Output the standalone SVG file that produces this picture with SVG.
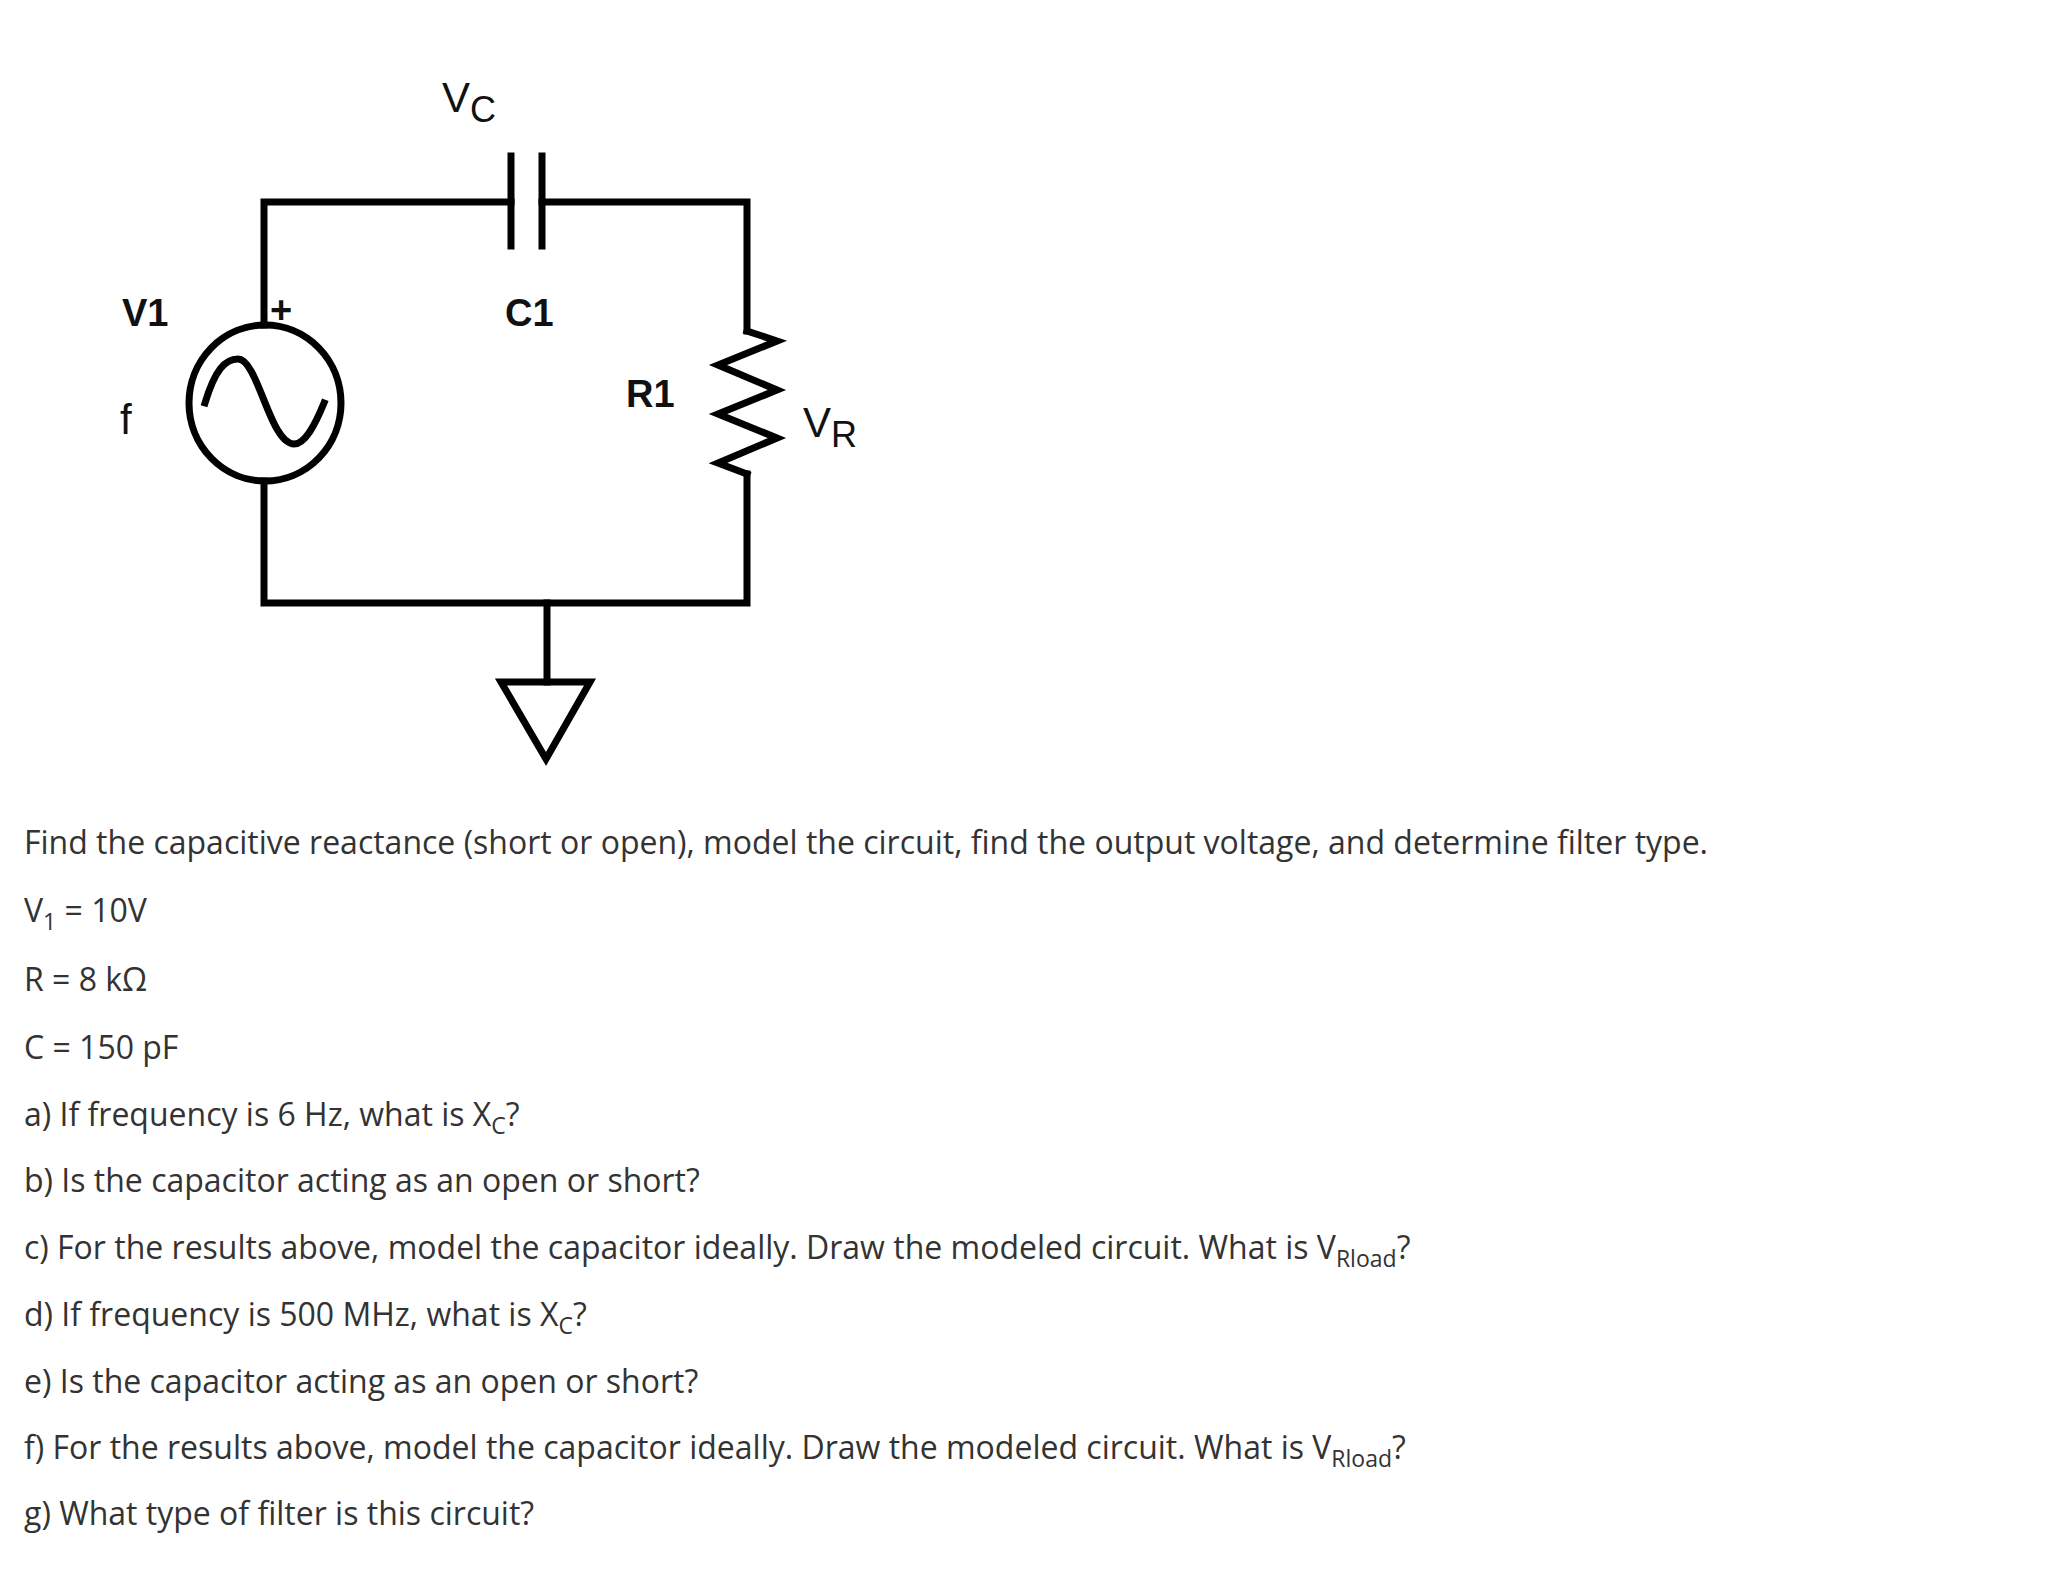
<svg xmlns="http://www.w3.org/2000/svg" width="2050" height="1570" viewBox="0 0 2050 1570">
<style>
.w{fill:none;stroke:#000;stroke-width:7;stroke-linejoin:miter;stroke-linecap:square}
.lb{font-family:"Liberation Sans",Arial,sans-serif;font-weight:bold;font-size:38px;fill:#111}
.ln{font-family:"Liberation Sans",Arial,sans-serif;font-size:42px;fill:#111}
.t{font-family:"Open Sans","Noto Sans",sans-serif;font-size:32px;fill:#333}
.s{font-size:23px}
</style>
<rect width="2050" height="1570" fill="#fff"/>
<g id="wires">
<polyline class="w" points="264,325 264,202 511,202"/>
<polyline class="w" points="542,202 747,202 747,331"/>
<polyline class="w" points="747,474 747,603 264,603 264,481"/>
<line class="w" x1="547" y1="603" x2="547" y2="682"/>
</g>
<g id="V1">
<ellipse class="w" cx="265" cy="403" rx="76" ry="78"/>
<path class="w" d="M205,403 C215,370 225,359 238,359 C258,359 270,444 294,444 C305,444 315,425 324,403" stroke-linecap="round"/>
<text class="lb" x="122" y="326">V1</text>
<text class="lb" x="270" y="323" font-size="42">+</text>
<text class="ln" x="120" y="434" font-size="40">f</text>
</g>
<g id="C1">
<line class="w" x1="511" y1="156" x2="511" y2="246" stroke-linecap="round"/>
<line class="w" x1="542" y1="156" x2="542" y2="246" stroke-linecap="round"/>
<text class="lb" x="505" y="326">C1</text>
<text class="ln" x="442" y="112">V<tspan font-size="36" dy="10">C</tspan></text>
</g>
<g id="R1">
<polyline class="w" points="747,331 777,341 718,365 777,390 718,414 777,438 718,463 747,474"/>
<text class="lb" x="626" y="407">R1</text>
<text class="ln" x="803" y="437">V<tspan font-size="36" dy="10">R</tspan></text>
</g>
<g id="GND">
<polygon class="w" points="501,682 590,682 546,759"/>
</g>
<g id="text">
<text class="t" x="24" y="854">Find the capacitive reactance (short or open), model the circuit, find the output voltage, and determine filter type.</text>
<text class="t" x="24" y="922">V<tspan class="s" dy="8">1</tspan><tspan dy="-8"> = 10V</tspan></text>
<text class="t" x="24" y="991">R = 8 kΩ</text>
<text class="t" x="24" y="1059">C = 150 pF</text>
<text class="t" x="24" y="1126">a) If frequency is 6 Hz, what is X<tspan class="s" dy="8">C</tspan><tspan dy="-8">?</tspan></text>
<text class="t" x="24" y="1192">b) Is the capacitor acting as an open or short?</text>
<text class="t" x="24" y="1259">c) For the results above, model the capacitor ideally. Draw the modeled circuit. What is V<tspan class="s" dy="8">Rload</tspan><tspan dy="-8">?</tspan></text>
<text class="t" x="24" y="1326">d) If frequency is 500 MHz, what is X<tspan class="s" dy="8">C</tspan><tspan dy="-8">?</tspan></text>
<text class="t" x="24" y="1393">e) Is the capacitor acting as an open or short?</text>
<text class="t" x="24" y="1459">f) For the results above, model the capacitor ideally. Draw the modeled circuit. What is V<tspan class="s" dy="8">Rload</tspan><tspan dy="-8">?</tspan></text>
<text class="t" x="24" y="1525">g) What type of filter is this circuit?</text>
</g>
</svg>
